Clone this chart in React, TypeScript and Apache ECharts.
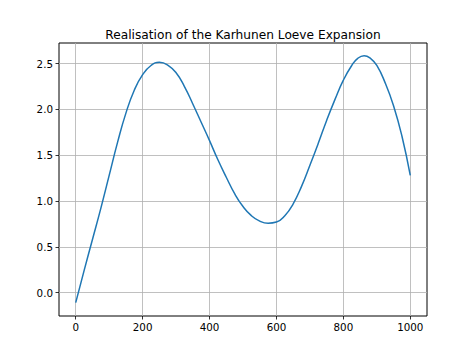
import React, { useEffect, useRef } from "react";
import * as echarts from "echarts";

const xValues = [0, 25, 50, 75, 100, 125, 150, 175, 200, 225, 250, 275, 300, 325, 350, 375, 400, 425, 450, 475, 500, 525, 550, 575, 600, 625, 650, 675, 700, 725, 750, 775, 800, 825, 843, 862, 881, 900, 925, 950, 975, 1000];
const yValues = [-0.11, 0.24, 0.58, 0.92, 1.28, 1.64, 1.96, 2.21, 2.38, 2.48, 2.515, 2.485, 2.4, 2.25, 2.06, 1.86, 1.66, 1.45, 1.26, 1.08, 0.94, 0.84, 0.78, 0.757, 0.77, 0.84, 0.97, 1.16, 1.39, 1.63, 1.88, 2.11, 2.32, 2.48, 2.558, 2.587, 2.558, 2.48, 2.29, 2.04, 1.71, 1.28];
const xTicks = [0, 200, 400, 600, 800, 1000];
const yTicks = [0, 0.5, 1.0, 1.5, 2.0, 2.5];
const titleText = "Realisation of the Karhunen Loeve Expansion";

export default function App() {
  const ref = useRef<HTMLDivElement>(null);
  useEffect(() => {
    if (!ref.current) return;
    const chart = echarts.init(ref.current, null, { renderer: "svg" });
    const font = "DejaVu Sans";
    chart.setOption({
      animation: false,
      backgroundColor: "#ffffff",
      title: {
        text: titleText,
        left: 238,
        textAlign: "center",
        top: 24,
        textStyle: { fontFamily: font, fontSize: 12.2, fontWeight: "normal", color: "#000" },
      },
      grid: {
        left: 59,
        right: 47,
        top: 43,
        bottom: 39,
        show: true,
        borderColor: "#000",
        borderWidth: 1,
        backgroundColor: "transparent",
      },
      xAxis: {
        type: "value",
        min: -50,
        max: 1050,
        axisLine: { show: false, onZero: false },
        axisTick: { show: true, inside: false, customValues: xTicks, length: 3.5, lineStyle: { color: "#000", width: 0.8 } },
        axisLabel: {
          customValues: xTicks,
          fontFamily: font,
          fontSize: 10.3,
          color: "#000",
          margin: 6,
          formatter: (v: number) => String(v),
        },
        splitLine: { show: true, lineStyle: { color: "#b0b0b0", width: 0.8 } },
      },
      yAxis: {
        type: "value",
        min: -0.2555,
        max: 2.7255,
        axisLine: { show: false, onZero: false },
        axisTick: { show: true, inside: false, customValues: yTicks, length: 3.5, lineStyle: { color: "#000", width: 0.8 } },
        axisLabel: {
          customValues: yTicks,
          fontFamily: font,
          fontSize: 10.3,
          color: "#000",
          margin: 6,
          formatter: (v: number) => v.toFixed(1),
        },
        splitLine: { show: true, lineStyle: { color: "#b0b0b0", width: 0.8 } },
      },
      series: [
        {
          type: "line",
          data: xValues.map((x, i) => [x, yValues[i]]),
          smooth: 0.5,
          showSymbol: false,
          lineStyle: { color: "#1f77b4", width: 1.5 },
        },
      ],
    });
    return () => chart.dispose();
  }, []);
  return <div ref={ref} style={{ position: "fixed", left: 0, top: 0, width: 474, height: 355 }} />;
}
